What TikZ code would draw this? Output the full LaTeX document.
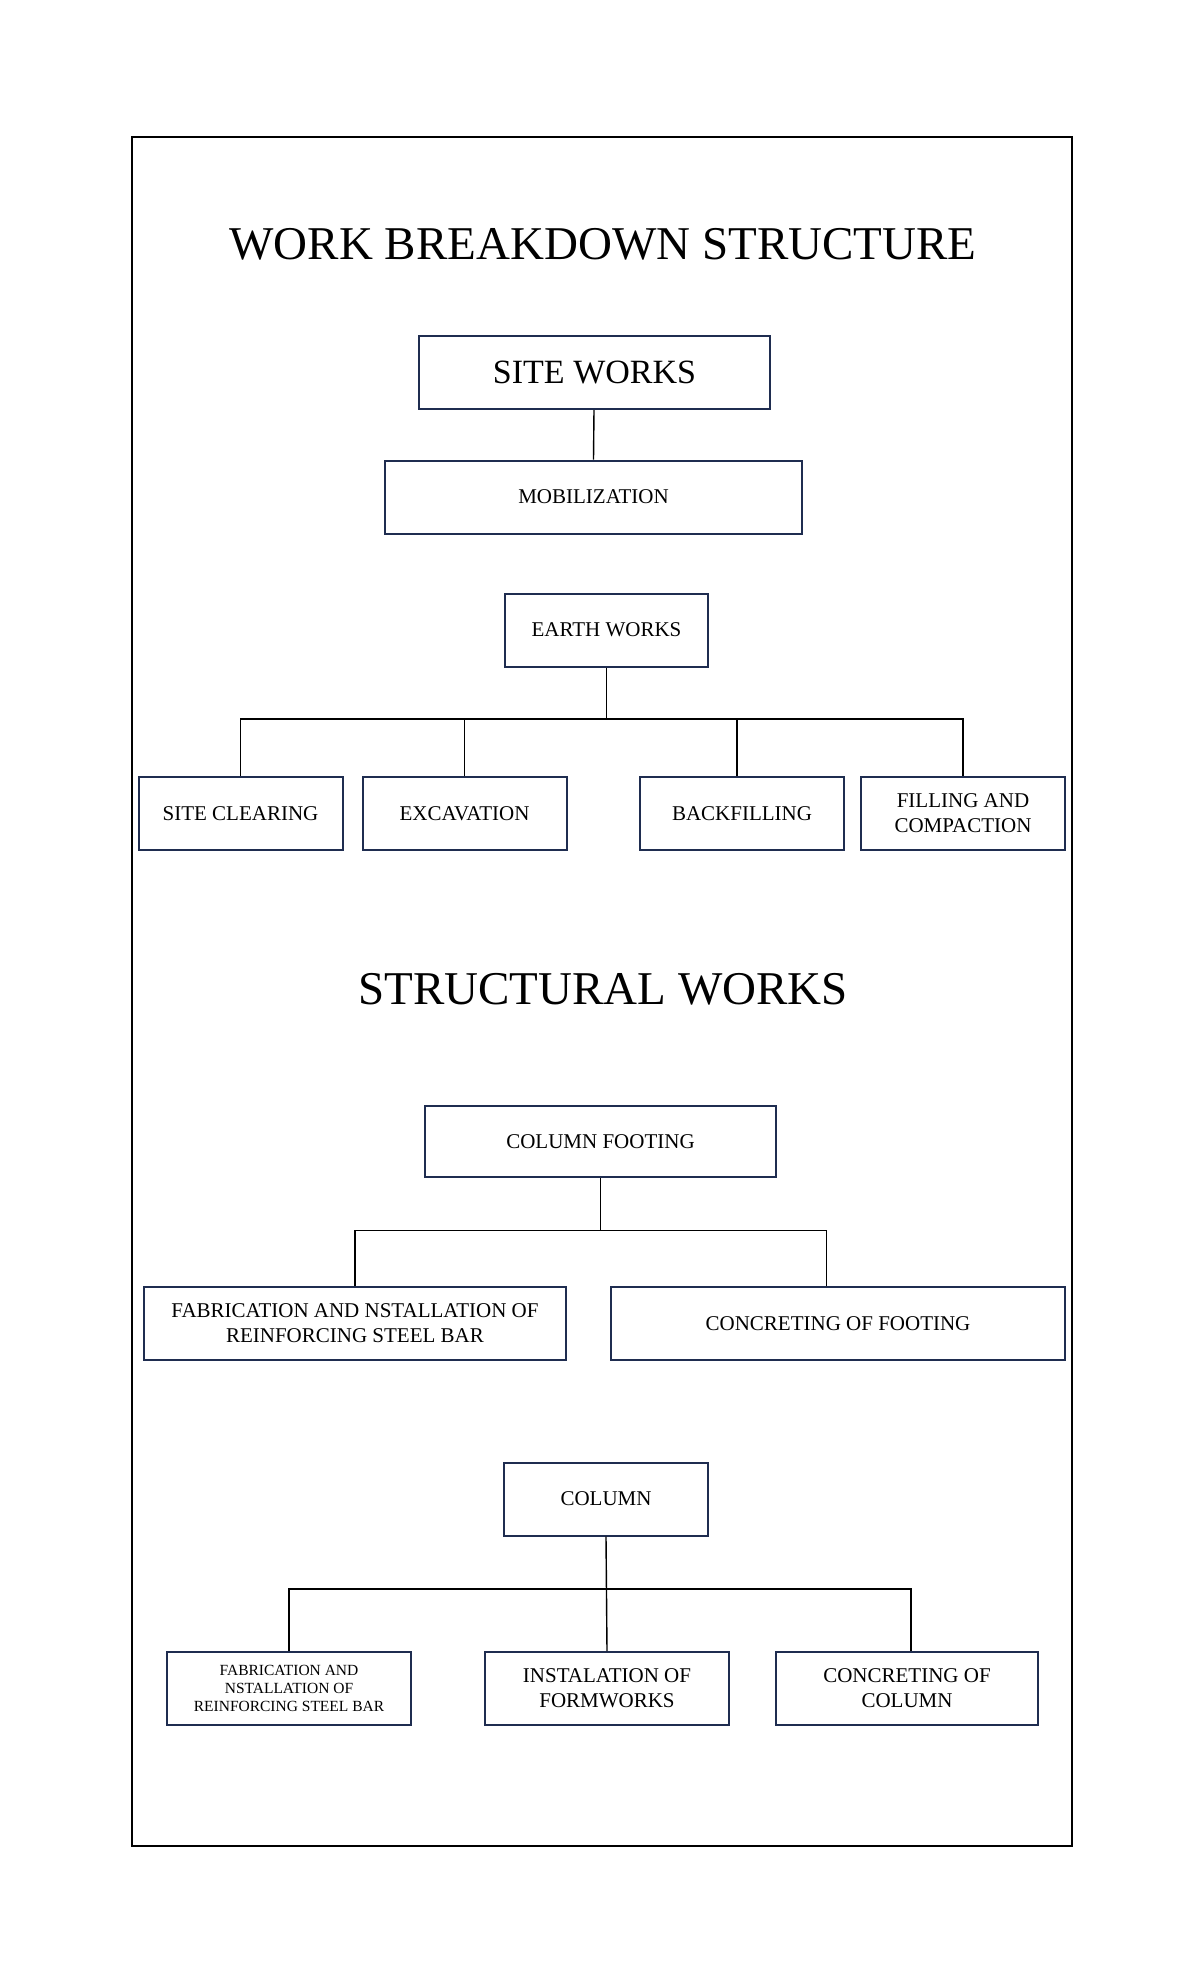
\documentclass[tikz,border=0pt]{standalone}
\usepackage{fontspec}
\setmainfont{Liberation Serif}
\usepackage{xcolor}
\definecolor{navy}{HTML}{1F2D50}

\begin{document}
\begin{tikzpicture}[x=1pt,y=-1pt,
  main/.style={draw=navy,line width=2pt,minimum height=73pt,inner sep=2pt,align=center,font=\fontsize{21}{25}\selectfont},
  title/.style={font=\fontsize{47}{56}\selectfont,inner sep=0pt},
  conn/.style={line width=1.4pt,black}]
\useasboundingbox (0,0) rectangle (1200,1976);
\draw[line width=2pt] (132,137) rectangle (1072,1846);

\node[title] (t1) at (603,244) {WORK BREAKDOWN STRUCTURE};
\node[title] (t2) at (603,989) {STRUCTURAL WORKS};

% site works
\node[main,minimum width=351pt,font=\fontsize{34}{40}\selectfont] (sw) at (594.5,372.5) {SITE WORKS};
\node[main,minimum width=417pt] (mob) at (593.5,497) {MOBILIZATION};
\node[main,minimum width=203pt] (ew) at (606.5,630) {EARTH WORKS};
\node[main,minimum width=204pt] (sc) at (240.5,813.5) {SITE CLEARING};
\node[main,minimum width=204pt] (ex) at (464.5,813.5) {EXCAVATION};
\node[main,minimum width=204pt] (bf) at (742,813.5) {BACKFILLING};
\node[main,minimum width=204pt] (fc) at (963,813.5) {FILLING AND\\COMPACTION};
\coordinate (b1) at (606.5,719);

\draw[conn] (sw.south -| mob.north) ++(0.5,0) -- (mob.north);
\draw[conn] (ew.south) -- (b1);
\draw[conn] (sc.north) |- (b1);
\draw[conn] (ex.north) |- (b1);
\draw[conn] ([xshift=-5pt]bf.north) |- (b1);
\draw[conn] (fc.north) |- (b1);

% column footing
\node[main,minimum width=351pt,minimum height=71pt] (cf) at (600.5,1141.5) {COLUMN FOOTING};
\node[main,minimum width=422pt] (fab1) at (355,1323.5) {FABRICATION AND NSTALLATION OF\\REINFORCING STEEL BAR};
\node[main,minimum width=454pt] (cof) at (838,1323.5) {CONCRETING OF FOOTING};
\coordinate (b2) at (600.5,1230.5);

\draw[conn] (cf.south) -- (b2);
\draw[conn] (fab1.north) |- (b2);
\draw[conn] ([xshift=-11.5pt]cof.north) |- (b2);

% column
\node[main,minimum width=203.5pt] (col) at (606,1499) {COLUMN};
\node[main,minimum width=244pt,font=\fontsize{15.5}{18.3}\selectfont] (fab2) at (289,1688.5) {FABRICATION AND\\NSTALLATION OF\\REINFORCING STEEL BAR};
\node[main,minimum width=244pt] (frm) at (607,1688.5) {INSTALATION OF\\FORMWORKS};
\node[main,minimum width=262pt] (coc) at (907,1688.5) {CONCRETING OF\\COLUMN};
\coordinate (b3) at (606,1589);

\draw[conn] (col.south) -- (frm.north);
\draw[conn] (fab2.north) |- (b3);
\draw[conn] ([xshift=4pt]coc.north) |- (b3);

\end{tikzpicture}
\end{document}
